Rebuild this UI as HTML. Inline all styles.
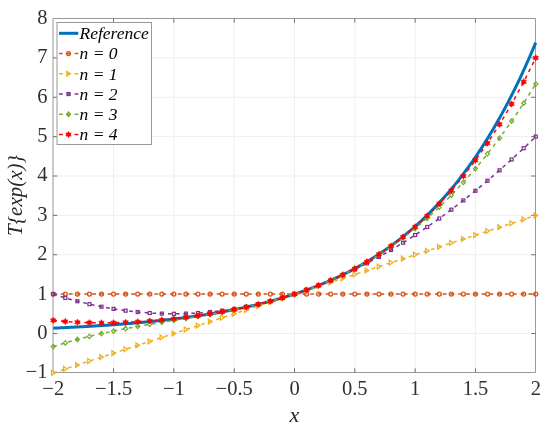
<!DOCTYPE html>
<html><head><meta charset="utf-8"><style>html,body{margin:0;padding:0;background:#fff;width:550px;height:430px;overflow:hidden}svg{display:block}</style></head>
<body><svg width="550" height="430" viewBox="0 0 550 430">
<rect width="550" height="430" fill="#fff"/>
<path d="M113.56,18.5V372.5M173.87,18.5V372.5M234.19,18.5V372.5M294.50,18.5V372.5M354.81,18.5V372.5M415.13,18.5V372.5M475.44,18.5V372.5M53.0,333.50H535.5M53.0,294.12H535.5M53.0,254.75H535.5M53.0,215.38H535.5M53.0,176.00H535.5M53.0,136.62H535.5M53.0,97.25H535.5M53.0,57.88H535.5" stroke="#efefef" stroke-width="1" fill="none"/>
<path d="M53.0,18.5H535.5V372.5H53.0Z" stroke="#999" stroke-width="1" fill="none"/>
<path d="M113.56,372.5v-4.2M113.56,18.5v4.2M173.87,372.5v-4.2M173.87,18.5v4.2M234.19,372.5v-4.2M234.19,18.5v4.2M294.50,372.5v-4.2M294.50,18.5v4.2M354.81,372.5v-4.2M354.81,18.5v4.2M415.13,372.5v-4.2M415.13,18.5v4.2M475.44,372.5v-4.2M475.44,18.5v4.2M53.0,333.50h4.2M535.5,333.50h-4.2M53.0,294.12h4.2M535.5,294.12h-4.2M53.0,254.75h4.2M535.5,254.75h-4.2M53.0,215.38h4.2M535.5,215.38h-4.2M53.0,176.00h4.2M535.5,176.00h-4.2M53.0,136.62h4.2M535.5,136.62h-4.2M53.0,97.25h4.2M535.5,97.25h-4.2M53.0,57.88h4.2M535.5,57.88h-4.2" stroke="#707070" stroke-width="1" fill="none"/>
<path d="M53.24,328.17 L54.45,328.12 L55.65,328.06 L56.86,328.01 L58.07,327.95 L59.27,327.90 L60.48,327.84 L61.68,327.78 L62.89,327.73 L64.10,327.67 L65.30,327.61 L66.51,327.55 L67.72,327.49 L68.92,327.43 L70.13,327.37 L71.33,327.31 L72.54,327.25 L73.75,327.18 L74.95,327.12 L76.16,327.06 L77.37,326.99 L78.57,326.93 L79.78,326.86 L80.98,326.79 L82.19,326.73 L83.40,326.66 L84.60,326.59 L85.81,326.52 L87.02,326.45 L88.22,326.38 L89.43,326.31 L90.64,326.23 L91.84,326.16 L93.05,326.09 L94.25,326.01 L95.46,325.94 L96.67,325.86 L97.87,325.79 L99.08,325.71 L100.29,325.63 L101.49,325.55 L102.70,325.47 L103.90,325.39 L105.11,325.31 L106.32,325.23 L107.52,325.14 L108.73,325.06 L109.94,324.97 L111.14,324.89 L112.35,324.80 L113.56,324.71 L114.76,324.63 L115.97,324.54 L117.17,324.45 L118.38,324.36 L119.59,324.26 L120.79,324.17 L122.00,324.08 L123.21,323.98 L124.41,323.89 L125.62,323.79 L126.82,323.69 L128.03,323.59 L129.24,323.49 L130.44,323.39 L131.65,323.29 L132.86,323.19 L134.06,323.09 L135.27,322.98 L136.47,322.88 L137.68,322.77 L138.89,322.66 L140.09,322.55 L141.30,322.44 L142.51,322.33 L143.71,322.22 L144.92,322.11 L146.13,321.99 L147.33,321.88 L148.54,321.76 L149.74,321.64 L150.95,321.52 L152.16,321.40 L153.36,321.28 L154.57,321.16 L155.78,321.03 L156.98,320.91 L158.19,320.78 L159.39,320.65 L160.60,320.52 L161.81,320.39 L163.01,320.26 L164.22,320.13 L165.43,319.99 L166.63,319.86 L167.84,319.72 L169.04,319.58 L170.25,319.44 L171.46,319.30 L172.66,319.16 L173.87,319.01 L175.08,318.87 L176.28,318.72 L177.49,318.57 L178.70,318.42 L179.90,318.27 L181.11,318.12 L182.31,317.96 L183.52,317.81 L184.73,317.65 L185.93,317.49 L187.14,317.33 L188.35,317.17 L189.55,317.00 L190.76,316.84 L191.96,316.67 L193.17,316.50 L194.38,316.33 L195.58,316.16 L196.79,315.98 L198.00,315.81 L199.20,315.63 L200.41,315.45 L201.61,315.27 L202.82,315.09 L204.03,314.90 L205.23,314.71 L206.44,314.52 L207.65,314.33 L208.85,314.14 L210.06,313.95 L211.27,313.75 L212.47,313.55 L213.68,313.35 L214.88,313.15 L216.09,312.94 L217.30,312.74 L218.50,312.53 L219.71,312.32 L220.92,312.11 L222.12,311.89 L223.33,311.67 L224.53,311.45 L225.74,311.23 L226.95,311.01 L228.15,310.78 L229.36,310.55 L230.57,310.32 L231.77,310.09 L232.98,309.86 L234.19,309.62 L235.39,309.38 L236.60,309.14 L237.80,308.89 L239.01,308.64 L240.22,308.39 L241.42,308.14 L242.63,307.89 L243.84,307.63 L245.04,307.37 L246.25,307.11 L247.45,306.84 L248.66,306.57 L249.87,306.30 L251.07,306.03 L252.28,305.75 L253.49,305.47 L254.69,305.19 L255.90,304.91 L257.10,304.62 L258.31,304.33 L259.52,304.04 L260.72,303.74 L261.93,303.44 L263.14,303.14 L264.34,302.83 L265.55,302.53 L266.76,302.22 L267.96,301.90 L269.17,301.58 L270.37,301.26 L271.58,300.94 L272.79,300.61 L273.99,300.28 L275.20,299.95 L276.41,299.61 L277.61,299.27 L278.82,298.92 L280.02,298.58 L281.23,298.23 L282.44,297.87 L283.64,297.51 L284.85,297.15 L286.06,296.79 L287.26,296.42 L288.47,296.05 L289.67,295.67 L290.88,295.29 L292.09,294.90 L293.29,294.52 L294.50,294.12 L295.71,293.73 L296.91,293.33 L298.12,292.93 L299.33,292.52 L300.53,292.11 L301.74,291.69 L302.94,291.27 L304.15,290.85 L305.36,290.42 L306.56,289.98 L307.77,289.55 L308.98,289.10 L310.18,288.66 L311.39,288.21 L312.59,287.75 L313.80,287.29 L315.01,286.83 L316.21,286.36 L317.42,285.89 L318.63,285.41 L319.83,284.92 L321.04,284.44 L322.24,283.94 L323.45,283.44 L324.66,282.94 L325.86,282.43 L327.07,281.92 L328.28,281.40 L329.48,280.88 L330.69,280.35 L331.90,279.82 L333.10,279.28 L334.31,278.73 L335.51,278.18 L336.72,277.62 L337.93,277.06 L339.13,276.50 L340.34,275.92 L341.55,275.34 L342.75,274.76 L343.96,274.17 L345.16,273.57 L346.37,272.97 L347.58,272.36 L348.78,271.75 L349.99,271.13 L351.20,270.50 L352.40,269.87 L353.61,269.23 L354.81,268.58 L356.02,267.93 L357.23,267.27 L358.43,266.60 L359.64,265.93 L360.85,265.25 L362.05,264.57 L363.26,263.87 L364.47,263.17 L365.67,262.47 L366.88,261.75 L368.08,261.03 L369.29,260.30 L370.50,259.57 L371.70,258.83 L372.91,258.08 L374.12,257.32 L375.32,256.55 L376.53,255.78 L377.73,255.00 L378.94,254.21 L380.15,253.41 L381.35,252.61 L382.56,251.79 L383.77,250.97 L384.97,250.14 L386.18,249.31 L387.39,248.46 L388.59,247.60 L389.80,246.74 L391.00,245.87 L392.21,244.99 L393.42,244.10 L394.62,243.20 L395.83,242.29 L397.04,241.38 L398.24,240.45 L399.45,239.52 L400.65,238.57 L401.86,237.62 L403.07,236.65 L404.27,235.68 L405.48,234.70 L406.69,233.70 L407.89,232.70 L409.10,231.69 L410.30,230.66 L411.51,229.63 L412.72,228.59 L413.92,227.53 L415.13,226.47 L416.34,225.39 L417.54,224.31 L418.75,223.21 L419.96,222.10 L421.16,220.98 L422.37,219.85 L423.57,218.71 L424.78,217.55 L425.99,216.39 L427.19,215.21 L428.40,214.02 L429.61,212.82 L430.81,211.61 L432.02,210.38 L433.22,209.15 L434.43,207.90 L435.64,206.63 L436.84,205.36 L438.05,204.07 L439.26,202.77 L440.46,201.46 L441.67,200.13 L442.87,198.79 L444.08,197.44 L445.29,196.07 L446.49,194.69 L447.70,193.29 L448.91,191.88 L450.11,190.46 L451.32,189.02 L452.53,187.57 L453.73,186.10 L454.94,184.62 L456.14,183.13 L457.35,181.61 L458.56,180.09 L459.76,178.55 L460.97,176.99 L462.18,175.42 L463.38,173.83 L464.59,172.22 L465.79,170.60 L467.00,168.96 L468.21,167.31 L469.41,165.64 L470.62,163.95 L471.83,162.25 L473.03,160.53 L474.24,158.79 L475.44,157.03 L476.65,155.26 L477.86,153.47 L479.06,151.66 L480.27,149.83 L481.48,147.99 L482.68,146.12 L483.89,144.24 L485.10,142.34 L486.30,140.41 L487.51,138.47 L488.71,136.51 L489.92,134.53 L491.13,132.53 L492.33,130.52 L493.54,128.48 L494.75,126.41 L495.95,124.33 L497.16,122.23 L498.36,120.11 L499.57,117.96 L500.78,115.80 L501.98,113.61 L503.19,111.40 L504.40,109.17 L505.60,106.91 L506.81,104.64 L508.02,102.34 L509.22,100.01 L510.43,97.67 L511.63,95.30 L512.84,92.90 L514.05,90.48 L515.25,88.04 L516.46,85.57 L517.67,83.08 L518.87,80.57 L520.08,78.02 L521.28,75.46 L522.49,72.86 L523.70,70.24 L524.90,67.60 L526.11,64.92 L527.32,62.23 L528.52,59.50 L529.73,56.75 L530.93,53.96 L532.14,51.15 L533.35,48.32 L534.55,45.45 L535.76,42.56" stroke="#0072BD" stroke-width="3" fill="none"/>
<path d="M53.24,294.12 L65.30,294.12 L77.37,294.12 L89.43,294.12 L101.49,294.12 L113.56,294.12 L125.62,294.12 L137.68,294.12 L149.74,294.12 L161.81,294.12 L173.87,294.12 L185.93,294.12 L198.00,294.12 L210.06,294.12 L222.12,294.12 L234.19,294.12 L246.25,294.12 L258.31,294.12 L270.37,294.12 L282.44,294.12 L294.50,294.12 L306.56,294.12 L318.63,294.12 L330.69,294.12 L342.75,294.12 L354.81,294.12 L366.88,294.12 L378.94,294.12 L391.00,294.12 L403.07,294.12 L415.13,294.12 L427.19,294.12 L439.26,294.12 L451.32,294.12 L463.38,294.12 L475.44,294.12 L487.51,294.12 L499.57,294.12 L511.63,294.12 L523.70,294.12 L535.76,294.12" stroke="#D95319" stroke-width="1.5" fill="none" stroke-dasharray="3.75 4.04"/>
<circle cx="53.24" cy="294.12" r="1.95" fill="none" stroke="#D95319" stroke-width="1.35"/>
<circle cx="65.30" cy="294.12" r="1.95" fill="none" stroke="#D95319" stroke-width="1.35"/>
<circle cx="77.37" cy="294.12" r="1.95" fill="none" stroke="#D95319" stroke-width="1.35"/>
<circle cx="89.43" cy="294.12" r="1.95" fill="none" stroke="#D95319" stroke-width="1.35"/>
<circle cx="101.49" cy="294.12" r="1.95" fill="none" stroke="#D95319" stroke-width="1.35"/>
<circle cx="113.56" cy="294.12" r="1.95" fill="none" stroke="#D95319" stroke-width="1.35"/>
<circle cx="125.62" cy="294.12" r="1.95" fill="none" stroke="#D95319" stroke-width="1.35"/>
<circle cx="137.68" cy="294.12" r="1.95" fill="none" stroke="#D95319" stroke-width="1.35"/>
<circle cx="149.74" cy="294.12" r="1.95" fill="none" stroke="#D95319" stroke-width="1.35"/>
<circle cx="161.81" cy="294.12" r="1.95" fill="none" stroke="#D95319" stroke-width="1.35"/>
<circle cx="173.87" cy="294.12" r="1.95" fill="none" stroke="#D95319" stroke-width="1.35"/>
<circle cx="185.93" cy="294.12" r="1.95" fill="none" stroke="#D95319" stroke-width="1.35"/>
<circle cx="198.00" cy="294.12" r="1.95" fill="none" stroke="#D95319" stroke-width="1.35"/>
<circle cx="210.06" cy="294.12" r="1.95" fill="none" stroke="#D95319" stroke-width="1.35"/>
<circle cx="222.12" cy="294.12" r="1.95" fill="none" stroke="#D95319" stroke-width="1.35"/>
<circle cx="234.19" cy="294.12" r="1.95" fill="none" stroke="#D95319" stroke-width="1.35"/>
<circle cx="246.25" cy="294.12" r="1.95" fill="none" stroke="#D95319" stroke-width="1.35"/>
<circle cx="258.31" cy="294.12" r="1.95" fill="none" stroke="#D95319" stroke-width="1.35"/>
<circle cx="270.37" cy="294.12" r="1.95" fill="none" stroke="#D95319" stroke-width="1.35"/>
<circle cx="282.44" cy="294.12" r="1.95" fill="none" stroke="#D95319" stroke-width="1.35"/>
<circle cx="294.50" cy="294.12" r="1.95" fill="none" stroke="#D95319" stroke-width="1.35"/>
<circle cx="306.56" cy="294.12" r="1.95" fill="none" stroke="#D95319" stroke-width="1.35"/>
<circle cx="318.63" cy="294.12" r="1.95" fill="none" stroke="#D95319" stroke-width="1.35"/>
<circle cx="330.69" cy="294.12" r="1.95" fill="none" stroke="#D95319" stroke-width="1.35"/>
<circle cx="342.75" cy="294.12" r="1.95" fill="none" stroke="#D95319" stroke-width="1.35"/>
<circle cx="354.81" cy="294.12" r="1.95" fill="none" stroke="#D95319" stroke-width="1.35"/>
<circle cx="366.88" cy="294.12" r="1.95" fill="none" stroke="#D95319" stroke-width="1.35"/>
<circle cx="378.94" cy="294.12" r="1.95" fill="none" stroke="#D95319" stroke-width="1.35"/>
<circle cx="391.00" cy="294.12" r="1.95" fill="none" stroke="#D95319" stroke-width="1.35"/>
<circle cx="403.07" cy="294.12" r="1.95" fill="none" stroke="#D95319" stroke-width="1.35"/>
<circle cx="415.13" cy="294.12" r="1.95" fill="none" stroke="#D95319" stroke-width="1.35"/>
<circle cx="427.19" cy="294.12" r="1.95" fill="none" stroke="#D95319" stroke-width="1.35"/>
<circle cx="439.26" cy="294.12" r="1.95" fill="none" stroke="#D95319" stroke-width="1.35"/>
<circle cx="451.32" cy="294.12" r="1.95" fill="none" stroke="#D95319" stroke-width="1.35"/>
<circle cx="463.38" cy="294.12" r="1.95" fill="none" stroke="#D95319" stroke-width="1.35"/>
<circle cx="475.44" cy="294.12" r="1.95" fill="none" stroke="#D95319" stroke-width="1.35"/>
<circle cx="487.51" cy="294.12" r="1.95" fill="none" stroke="#D95319" stroke-width="1.35"/>
<circle cx="499.57" cy="294.12" r="1.95" fill="none" stroke="#D95319" stroke-width="1.35"/>
<circle cx="511.63" cy="294.12" r="1.95" fill="none" stroke="#D95319" stroke-width="1.35"/>
<circle cx="523.70" cy="294.12" r="1.95" fill="none" stroke="#D95319" stroke-width="1.35"/>
<circle cx="535.76" cy="294.12" r="1.95" fill="none" stroke="#D95319" stroke-width="1.35"/>
<path d="M53.24,372.88 L65.30,368.94 L77.37,365.00 L89.43,361.06 L101.49,357.12 L113.56,353.19 L125.62,349.25 L137.68,345.31 L149.74,341.38 L161.81,337.44 L173.87,333.50 L185.93,329.56 L198.00,325.62 L210.06,321.69 L222.12,317.75 L234.19,313.81 L246.25,309.88 L258.31,305.94 L270.37,302.00 L282.44,298.06 L294.50,294.12 L306.56,290.19 L318.63,286.25 L330.69,282.31 L342.75,278.38 L354.81,274.44 L366.88,270.50 L378.94,266.56 L391.00,262.62 L403.07,258.69 L415.13,254.75 L427.19,250.81 L439.26,246.88 L451.32,242.94 L463.38,239.00 L475.44,235.06 L487.51,231.12 L499.57,227.19 L511.63,223.25 L523.70,219.31 L535.76,215.38" stroke="#EDB120" stroke-width="1.5" fill="none" stroke-dasharray="3.75 4.04"/>
<polygon points="55.24,372.88 51.54,370.43 51.54,375.32" fill="none" stroke="#EDB120" stroke-width="1.2"/>
<polygon points="67.30,368.94 63.60,366.49 63.60,371.39" fill="none" stroke="#EDB120" stroke-width="1.2"/>
<polygon points="79.37,365.00 75.67,362.55 75.67,367.45" fill="none" stroke="#EDB120" stroke-width="1.2"/>
<polygon points="91.43,361.06 87.73,358.61 87.73,363.51" fill="none" stroke="#EDB120" stroke-width="1.2"/>
<polygon points="103.49,357.12 99.79,354.68 99.79,359.57" fill="none" stroke="#EDB120" stroke-width="1.2"/>
<polygon points="115.56,353.19 111.86,350.74 111.86,355.64" fill="none" stroke="#EDB120" stroke-width="1.2"/>
<polygon points="127.62,349.25 123.92,346.80 123.92,351.70" fill="none" stroke="#EDB120" stroke-width="1.2"/>
<polygon points="139.68,345.31 135.98,342.86 135.98,347.76" fill="none" stroke="#EDB120" stroke-width="1.2"/>
<polygon points="151.74,341.38 148.04,338.93 148.04,343.82" fill="none" stroke="#EDB120" stroke-width="1.2"/>
<polygon points="163.81,337.44 160.11,334.99 160.11,339.89" fill="none" stroke="#EDB120" stroke-width="1.2"/>
<polygon points="175.87,333.50 172.17,331.05 172.17,335.95" fill="none" stroke="#EDB120" stroke-width="1.2"/>
<polygon points="187.93,329.56 184.23,327.11 184.23,332.01" fill="none" stroke="#EDB120" stroke-width="1.2"/>
<polygon points="200.00,325.62 196.30,323.18 196.30,328.07" fill="none" stroke="#EDB120" stroke-width="1.2"/>
<polygon points="212.06,321.69 208.36,319.24 208.36,324.14" fill="none" stroke="#EDB120" stroke-width="1.2"/>
<polygon points="224.12,317.75 220.42,315.30 220.42,320.20" fill="none" stroke="#EDB120" stroke-width="1.2"/>
<polygon points="236.19,313.81 232.49,311.36 232.49,316.26" fill="none" stroke="#EDB120" stroke-width="1.2"/>
<polygon points="248.25,309.88 244.55,307.43 244.55,312.32" fill="none" stroke="#EDB120" stroke-width="1.2"/>
<polygon points="260.31,305.94 256.61,303.49 256.61,308.39" fill="none" stroke="#EDB120" stroke-width="1.2"/>
<polygon points="272.37,302.00 268.67,299.55 268.67,304.45" fill="none" stroke="#EDB120" stroke-width="1.2"/>
<polygon points="284.44,298.06 280.74,295.61 280.74,300.51" fill="none" stroke="#EDB120" stroke-width="1.2"/>
<polygon points="296.50,294.12 292.80,291.68 292.80,296.57" fill="none" stroke="#EDB120" stroke-width="1.2"/>
<polygon points="308.56,290.19 304.86,287.74 304.86,292.64" fill="none" stroke="#EDB120" stroke-width="1.2"/>
<polygon points="320.63,286.25 316.93,283.80 316.93,288.70" fill="none" stroke="#EDB120" stroke-width="1.2"/>
<polygon points="332.69,282.31 328.99,279.86 328.99,284.76" fill="none" stroke="#EDB120" stroke-width="1.2"/>
<polygon points="344.75,278.38 341.05,275.93 341.05,280.82" fill="none" stroke="#EDB120" stroke-width="1.2"/>
<polygon points="356.81,274.44 353.12,271.99 353.12,276.89" fill="none" stroke="#EDB120" stroke-width="1.2"/>
<polygon points="368.88,270.50 365.18,268.05 365.18,272.95" fill="none" stroke="#EDB120" stroke-width="1.2"/>
<polygon points="380.94,266.56 377.24,264.11 377.24,269.01" fill="none" stroke="#EDB120" stroke-width="1.2"/>
<polygon points="393.00,262.62 389.30,260.18 389.30,265.07" fill="none" stroke="#EDB120" stroke-width="1.2"/>
<polygon points="405.07,258.69 401.37,256.24 401.37,261.14" fill="none" stroke="#EDB120" stroke-width="1.2"/>
<polygon points="417.13,254.75 413.43,252.30 413.43,257.20" fill="none" stroke="#EDB120" stroke-width="1.2"/>
<polygon points="429.19,250.81 425.49,248.36 425.49,253.26" fill="none" stroke="#EDB120" stroke-width="1.2"/>
<polygon points="441.26,246.88 437.56,244.43 437.56,249.32" fill="none" stroke="#EDB120" stroke-width="1.2"/>
<polygon points="453.32,242.94 449.62,240.49 449.62,245.39" fill="none" stroke="#EDB120" stroke-width="1.2"/>
<polygon points="465.38,239.00 461.68,236.55 461.68,241.45" fill="none" stroke="#EDB120" stroke-width="1.2"/>
<polygon points="477.44,235.06 473.75,232.61 473.75,237.51" fill="none" stroke="#EDB120" stroke-width="1.2"/>
<polygon points="489.51,231.12 485.81,228.68 485.81,233.57" fill="none" stroke="#EDB120" stroke-width="1.2"/>
<polygon points="501.57,227.19 497.87,224.74 497.87,229.64" fill="none" stroke="#EDB120" stroke-width="1.2"/>
<polygon points="513.63,223.25 509.93,220.80 509.93,225.70" fill="none" stroke="#EDB120" stroke-width="1.2"/>
<polygon points="525.70,219.31 522.00,216.86 522.00,221.76" fill="none" stroke="#EDB120" stroke-width="1.2"/>
<polygon points="537.76,215.38 534.06,212.93 534.06,217.82" fill="none" stroke="#EDB120" stroke-width="1.2"/>
<path d="M53.24,294.12 L65.30,297.87 L77.37,301.21 L89.43,304.17 L101.49,306.73 L113.56,308.89 L125.62,310.66 L137.68,312.04 L149.74,313.02 L161.81,313.62 L173.87,313.81 L185.93,313.62 L198.00,313.02 L210.06,312.04 L222.12,310.66 L234.19,308.89 L246.25,306.73 L258.31,304.17 L270.37,301.21 L282.44,297.87 L294.50,294.12 L306.56,289.99 L318.63,285.46 L330.69,280.54 L342.75,275.23 L354.81,269.52 L366.88,263.41 L378.94,256.92 L391.00,250.02 L403.07,242.74 L415.13,235.06 L427.19,226.99 L439.26,218.53 L451.32,209.67 L463.38,200.41 L475.44,190.77 L487.51,180.72 L499.57,170.29 L511.63,159.46 L523.70,148.24 L535.76,136.62" stroke="#7E2F8E" stroke-width="1.5" fill="none" stroke-dasharray="3.75 4.04"/>
<rect x="51.74" y="292.62" width="3.00" height="3.00" fill="none" stroke="#7E2F8E" stroke-width="1.2"/>
<rect x="63.80" y="296.37" width="3.00" height="3.00" fill="none" stroke="#7E2F8E" stroke-width="1.2"/>
<rect x="75.87" y="299.71" width="3.00" height="3.00" fill="none" stroke="#7E2F8E" stroke-width="1.2"/>
<rect x="87.93" y="302.67" width="3.00" height="3.00" fill="none" stroke="#7E2F8E" stroke-width="1.2"/>
<rect x="99.99" y="305.23" width="3.00" height="3.00" fill="none" stroke="#7E2F8E" stroke-width="1.2"/>
<rect x="112.06" y="307.39" width="3.00" height="3.00" fill="none" stroke="#7E2F8E" stroke-width="1.2"/>
<rect x="124.12" y="309.16" width="3.00" height="3.00" fill="none" stroke="#7E2F8E" stroke-width="1.2"/>
<rect x="136.18" y="310.54" width="3.00" height="3.00" fill="none" stroke="#7E2F8E" stroke-width="1.2"/>
<rect x="148.24" y="311.52" width="3.00" height="3.00" fill="none" stroke="#7E2F8E" stroke-width="1.2"/>
<rect x="160.31" y="312.12" width="3.00" height="3.00" fill="none" stroke="#7E2F8E" stroke-width="1.2"/>
<rect x="172.37" y="312.31" width="3.00" height="3.00" fill="none" stroke="#7E2F8E" stroke-width="1.2"/>
<rect x="184.43" y="312.12" width="3.00" height="3.00" fill="none" stroke="#7E2F8E" stroke-width="1.2"/>
<rect x="196.50" y="311.52" width="3.00" height="3.00" fill="none" stroke="#7E2F8E" stroke-width="1.2"/>
<rect x="208.56" y="310.54" width="3.00" height="3.00" fill="none" stroke="#7E2F8E" stroke-width="1.2"/>
<rect x="220.62" y="309.16" width="3.00" height="3.00" fill="none" stroke="#7E2F8E" stroke-width="1.2"/>
<rect x="232.69" y="307.39" width="3.00" height="3.00" fill="none" stroke="#7E2F8E" stroke-width="1.2"/>
<rect x="244.75" y="305.23" width="3.00" height="3.00" fill="none" stroke="#7E2F8E" stroke-width="1.2"/>
<rect x="256.81" y="302.67" width="3.00" height="3.00" fill="none" stroke="#7E2F8E" stroke-width="1.2"/>
<rect x="268.87" y="299.71" width="3.00" height="3.00" fill="none" stroke="#7E2F8E" stroke-width="1.2"/>
<rect x="280.94" y="296.37" width="3.00" height="3.00" fill="none" stroke="#7E2F8E" stroke-width="1.2"/>
<rect x="293.00" y="292.62" width="3.00" height="3.00" fill="none" stroke="#7E2F8E" stroke-width="1.2"/>
<rect x="305.06" y="288.49" width="3.00" height="3.00" fill="none" stroke="#7E2F8E" stroke-width="1.2"/>
<rect x="317.13" y="283.96" width="3.00" height="3.00" fill="none" stroke="#7E2F8E" stroke-width="1.2"/>
<rect x="329.19" y="279.04" width="3.00" height="3.00" fill="none" stroke="#7E2F8E" stroke-width="1.2"/>
<rect x="341.25" y="273.73" width="3.00" height="3.00" fill="none" stroke="#7E2F8E" stroke-width="1.2"/>
<rect x="353.31" y="268.02" width="3.00" height="3.00" fill="none" stroke="#7E2F8E" stroke-width="1.2"/>
<rect x="365.38" y="261.91" width="3.00" height="3.00" fill="none" stroke="#7E2F8E" stroke-width="1.2"/>
<rect x="377.44" y="255.42" width="3.00" height="3.00" fill="none" stroke="#7E2F8E" stroke-width="1.2"/>
<rect x="389.50" y="248.52" width="3.00" height="3.00" fill="none" stroke="#7E2F8E" stroke-width="1.2"/>
<rect x="401.57" y="241.24" width="3.00" height="3.00" fill="none" stroke="#7E2F8E" stroke-width="1.2"/>
<rect x="413.63" y="233.56" width="3.00" height="3.00" fill="none" stroke="#7E2F8E" stroke-width="1.2"/>
<rect x="425.69" y="225.49" width="3.00" height="3.00" fill="none" stroke="#7E2F8E" stroke-width="1.2"/>
<rect x="437.76" y="217.03" width="3.00" height="3.00" fill="none" stroke="#7E2F8E" stroke-width="1.2"/>
<rect x="449.82" y="208.17" width="3.00" height="3.00" fill="none" stroke="#7E2F8E" stroke-width="1.2"/>
<rect x="461.88" y="198.91" width="3.00" height="3.00" fill="none" stroke="#7E2F8E" stroke-width="1.2"/>
<rect x="473.94" y="189.27" width="3.00" height="3.00" fill="none" stroke="#7E2F8E" stroke-width="1.2"/>
<rect x="486.01" y="179.22" width="3.00" height="3.00" fill="none" stroke="#7E2F8E" stroke-width="1.2"/>
<rect x="498.07" y="168.79" width="3.00" height="3.00" fill="none" stroke="#7E2F8E" stroke-width="1.2"/>
<rect x="510.13" y="157.96" width="3.00" height="3.00" fill="none" stroke="#7E2F8E" stroke-width="1.2"/>
<rect x="522.20" y="146.74" width="3.00" height="3.00" fill="none" stroke="#7E2F8E" stroke-width="1.2"/>
<rect x="534.26" y="135.12" width="3.00" height="3.00" fill="none" stroke="#7E2F8E" stroke-width="1.2"/>
<path d="M53.24,346.62 L65.30,342.88 L77.37,339.49 L89.43,336.41 L101.49,333.61 L113.56,331.04 L125.62,328.67 L137.68,326.46 L149.74,324.37 L161.81,322.35 L173.87,320.38 L185.93,318.40 L198.00,316.38 L210.06,314.29 L222.12,312.08 L234.19,309.71 L246.25,307.14 L258.31,304.34 L270.37,301.26 L282.44,297.87 L294.50,294.12 L306.56,289.98 L318.63,285.41 L330.69,280.36 L342.75,274.81 L354.81,268.70 L366.88,262.00 L378.94,254.66 L391.00,246.66 L403.07,237.96 L415.13,228.50 L427.19,218.26 L439.26,207.19 L451.32,195.25 L463.38,182.41 L475.44,168.62 L487.51,153.84 L499.57,138.05 L511.63,121.19 L523.70,103.23 L535.76,84.12" stroke="#77AC30" stroke-width="1.5" fill="none" stroke-dasharray="3.75 4.04"/>
<polygon points="53.24,344.38 55.29,346.62 53.24,348.88 51.19,346.62" fill="none" stroke="#77AC30" stroke-width="1.2"/>
<polygon points="65.30,340.63 67.35,342.88 65.30,345.13 63.25,342.88" fill="none" stroke="#77AC30" stroke-width="1.2"/>
<polygon points="77.37,337.24 79.42,339.49 77.37,341.74 75.32,339.49" fill="none" stroke="#77AC30" stroke-width="1.2"/>
<polygon points="89.43,334.16 91.48,336.41 89.43,338.66 87.38,336.41" fill="none" stroke="#77AC30" stroke-width="1.2"/>
<polygon points="101.49,331.36 103.54,333.61 101.49,335.86 99.44,333.61" fill="none" stroke="#77AC30" stroke-width="1.2"/>
<polygon points="113.56,328.79 115.61,331.04 113.56,333.29 111.51,331.04" fill="none" stroke="#77AC30" stroke-width="1.2"/>
<polygon points="125.62,326.42 127.67,328.67 125.62,330.92 123.57,328.67" fill="none" stroke="#77AC30" stroke-width="1.2"/>
<polygon points="137.68,324.21 139.73,326.46 137.68,328.71 135.63,326.46" fill="none" stroke="#77AC30" stroke-width="1.2"/>
<polygon points="149.74,322.12 151.79,324.37 149.74,326.62 147.69,324.37" fill="none" stroke="#77AC30" stroke-width="1.2"/>
<polygon points="161.81,320.10 163.86,322.35 161.81,324.60 159.76,322.35" fill="none" stroke="#77AC30" stroke-width="1.2"/>
<polygon points="173.87,318.12 175.92,320.38 173.87,322.62 171.82,320.38" fill="none" stroke="#77AC30" stroke-width="1.2"/>
<polygon points="185.93,316.15 187.98,318.40 185.93,320.65 183.88,318.40" fill="none" stroke="#77AC30" stroke-width="1.2"/>
<polygon points="198.00,314.13 200.05,316.38 198.00,318.63 195.95,316.38" fill="none" stroke="#77AC30" stroke-width="1.2"/>
<polygon points="210.06,312.04 212.11,314.29 210.06,316.54 208.01,314.29" fill="none" stroke="#77AC30" stroke-width="1.2"/>
<polygon points="222.12,309.83 224.17,312.08 222.12,314.33 220.07,312.08" fill="none" stroke="#77AC30" stroke-width="1.2"/>
<polygon points="234.19,307.46 236.24,309.71 234.19,311.96 232.13,309.71" fill="none" stroke="#77AC30" stroke-width="1.2"/>
<polygon points="246.25,304.89 248.30,307.14 246.25,309.39 244.20,307.14" fill="none" stroke="#77AC30" stroke-width="1.2"/>
<polygon points="258.31,302.09 260.36,304.34 258.31,306.59 256.26,304.34" fill="none" stroke="#77AC30" stroke-width="1.2"/>
<polygon points="270.37,299.01 272.42,301.26 270.37,303.51 268.32,301.26" fill="none" stroke="#77AC30" stroke-width="1.2"/>
<polygon points="282.44,295.62 284.49,297.87 282.44,300.12 280.39,297.87" fill="none" stroke="#77AC30" stroke-width="1.2"/>
<polygon points="294.50,291.88 296.55,294.12 294.50,296.38 292.45,294.12" fill="none" stroke="#77AC30" stroke-width="1.2"/>
<polygon points="306.56,287.73 308.61,289.98 306.56,292.23 304.51,289.98" fill="none" stroke="#77AC30" stroke-width="1.2"/>
<polygon points="318.63,283.16 320.68,285.41 318.63,287.66 316.58,285.41" fill="none" stroke="#77AC30" stroke-width="1.2"/>
<polygon points="330.69,278.11 332.74,280.36 330.69,282.61 328.64,280.36" fill="none" stroke="#77AC30" stroke-width="1.2"/>
<polygon points="342.75,272.56 344.80,274.81 342.75,277.06 340.70,274.81" fill="none" stroke="#77AC30" stroke-width="1.2"/>
<polygon points="354.81,266.45 356.87,268.70 354.81,270.95 352.76,268.70" fill="none" stroke="#77AC30" stroke-width="1.2"/>
<polygon points="366.88,259.75 368.93,262.00 366.88,264.25 364.83,262.00" fill="none" stroke="#77AC30" stroke-width="1.2"/>
<polygon points="378.94,252.41 380.99,254.66 378.94,256.91 376.89,254.66" fill="none" stroke="#77AC30" stroke-width="1.2"/>
<polygon points="391.00,244.41 393.05,246.66 391.00,248.91 388.95,246.66" fill="none" stroke="#77AC30" stroke-width="1.2"/>
<polygon points="403.07,235.71 405.12,237.96 403.07,240.21 401.02,237.96" fill="none" stroke="#77AC30" stroke-width="1.2"/>
<polygon points="415.13,226.25 417.18,228.50 415.13,230.75 413.08,228.50" fill="none" stroke="#77AC30" stroke-width="1.2"/>
<polygon points="427.19,216.01 429.24,218.26 427.19,220.51 425.14,218.26" fill="none" stroke="#77AC30" stroke-width="1.2"/>
<polygon points="439.26,204.94 441.31,207.19 439.26,209.44 437.21,207.19" fill="none" stroke="#77AC30" stroke-width="1.2"/>
<polygon points="451.32,193.00 453.37,195.25 451.32,197.50 449.27,195.25" fill="none" stroke="#77AC30" stroke-width="1.2"/>
<polygon points="463.38,180.16 465.43,182.41 463.38,184.66 461.33,182.41" fill="none" stroke="#77AC30" stroke-width="1.2"/>
<polygon points="475.44,166.37 477.50,168.62 475.44,170.87 473.39,168.62" fill="none" stroke="#77AC30" stroke-width="1.2"/>
<polygon points="487.51,151.59 489.56,153.84 487.51,156.09 485.46,153.84" fill="none" stroke="#77AC30" stroke-width="1.2"/>
<polygon points="499.57,135.80 501.62,138.05 499.57,140.30 497.52,138.05" fill="none" stroke="#77AC30" stroke-width="1.2"/>
<polygon points="511.63,118.94 513.68,121.19 511.63,123.44 509.58,121.19" fill="none" stroke="#77AC30" stroke-width="1.2"/>
<polygon points="523.70,100.98 525.75,103.23 523.70,105.48 521.65,103.23" fill="none" stroke="#77AC30" stroke-width="1.2"/>
<polygon points="535.76,81.88 537.81,84.12 535.76,86.38 533.71,84.12" fill="none" stroke="#77AC30" stroke-width="1.2"/>
<path d="M53.24,320.38 L65.30,321.50 L77.37,322.26 L89.43,322.70 L101.49,322.85 L113.56,322.73 L125.62,322.37 L137.68,321.77 L149.74,320.96 L161.81,319.95 L173.87,318.73 L185.93,317.32 L198.00,315.71 L210.06,313.90 L222.12,311.87 L234.19,309.61 L246.25,307.10 L258.31,304.33 L270.37,301.26 L282.44,297.87 L294.50,294.12 L306.56,289.98 L318.63,285.41 L330.69,280.35 L342.75,274.76 L354.81,268.59 L366.88,261.78 L378.94,254.27 L391.00,245.99 L403.07,236.88 L415.13,226.86 L427.19,215.85 L439.26,203.78 L451.32,190.56 L463.38,176.10 L475.44,160.31 L487.51,143.09 L499.57,124.35 L511.63,103.97 L523.70,81.85 L535.76,57.88" stroke="#FF0000" stroke-width="1.5" fill="none" stroke-dasharray="3.75 4.04"/>
<polygon points="53.24,317.18 54.17,318.77 56.01,318.77 55.09,320.38 56.01,321.98 54.17,321.98 53.24,323.57 52.32,321.98 50.47,321.98 51.39,320.38 50.47,318.77 52.32,318.77" fill="#FF0000" stroke="#FF0000" stroke-width="0.5"/>
<polygon points="65.30,318.30 66.23,319.89 68.07,319.90 67.15,321.50 68.07,323.10 66.23,323.10 65.30,324.70 64.38,323.10 62.53,323.10 63.45,321.50 62.53,319.90 64.38,319.89" fill="#FF0000" stroke="#FF0000" stroke-width="0.5"/>
<polygon points="77.37,319.06 78.29,320.66 80.14,320.66 79.22,322.26 80.14,323.86 78.29,323.86 77.37,325.46 76.44,323.86 74.59,323.86 75.52,322.26 74.59,320.66 76.44,320.66" fill="#FF0000" stroke="#FF0000" stroke-width="0.5"/>
<polygon points="89.43,319.50 90.35,321.10 92.20,321.10 91.28,322.70 92.20,324.30 90.35,324.31 89.43,325.90 88.50,324.31 86.66,324.30 87.58,322.70 86.66,321.10 88.50,321.10" fill="#FF0000" stroke="#FF0000" stroke-width="0.5"/>
<polygon points="101.49,319.65 102.42,321.25 104.26,321.25 103.34,322.85 104.26,324.45 102.42,324.46 101.49,326.05 100.57,324.46 98.72,324.45 99.64,322.85 98.72,321.25 100.57,321.25" fill="#FF0000" stroke="#FF0000" stroke-width="0.5"/>
<polygon points="113.56,319.53 114.48,321.13 116.33,321.13 115.41,322.73 116.33,324.33 114.48,324.34 113.56,325.93 112.63,324.34 110.78,324.33 111.71,322.73 110.78,321.13 112.63,321.13" fill="#FF0000" stroke="#FF0000" stroke-width="0.5"/>
<polygon points="125.62,319.17 126.54,320.77 128.39,320.77 127.47,322.37 128.39,323.97 126.54,323.97 125.62,325.57 124.69,323.97 122.85,323.97 123.77,322.37 122.85,320.77 124.69,320.77" fill="#FF0000" stroke="#FF0000" stroke-width="0.5"/>
<polygon points="137.68,318.57 138.61,320.17 140.45,320.17 139.53,321.77 140.45,323.37 138.61,323.37 137.68,324.97 136.76,323.37 134.91,323.37 135.83,321.77 134.91,320.17 136.76,320.17" fill="#FF0000" stroke="#FF0000" stroke-width="0.5"/>
<polygon points="149.74,317.76 150.67,319.36 152.52,319.36 151.59,320.96 152.52,322.56 150.67,322.57 149.74,324.16 148.82,322.57 146.97,322.56 147.89,320.96 146.97,319.36 148.82,319.36" fill="#FF0000" stroke="#FF0000" stroke-width="0.5"/>
<polygon points="161.81,316.75 162.73,318.35 164.58,318.35 163.66,319.95 164.58,321.55 162.73,321.55 161.81,323.15 160.88,321.55 159.04,321.55 159.96,319.95 159.04,318.35 160.88,318.35" fill="#FF0000" stroke="#FF0000" stroke-width="0.5"/>
<polygon points="173.87,315.53 174.80,317.13 176.64,317.13 175.72,318.73 176.64,320.33 174.80,320.34 173.87,321.93 172.94,320.34 171.10,320.33 172.02,318.73 171.10,317.13 172.94,317.13" fill="#FF0000" stroke="#FF0000" stroke-width="0.5"/>
<polygon points="185.93,314.12 186.86,315.72 188.70,315.72 187.78,317.32 188.70,318.92 186.86,318.93 185.93,320.52 185.01,318.93 183.16,318.92 184.08,317.32 183.16,315.72 185.01,315.72" fill="#FF0000" stroke="#FF0000" stroke-width="0.5"/>
<polygon points="198.00,312.51 198.92,314.11 200.77,314.11 199.85,315.71 200.77,317.31 198.92,317.32 198.00,318.91 197.07,317.32 195.22,317.31 196.15,315.71 195.22,314.11 197.07,314.11" fill="#FF0000" stroke="#FF0000" stroke-width="0.5"/>
<polygon points="210.06,310.70 210.98,312.30 212.83,312.30 211.91,313.90 212.83,315.50 210.98,315.50 210.06,317.10 209.13,315.50 207.29,315.50 208.21,313.90 207.29,312.30 209.13,312.30" fill="#FF0000" stroke="#FF0000" stroke-width="0.5"/>
<polygon points="222.12,308.67 223.05,310.27 224.89,310.27 223.97,311.87 224.89,313.47 223.05,313.47 222.12,315.07 221.20,313.47 219.35,313.47 220.27,311.87 219.35,310.27 221.20,310.27" fill="#FF0000" stroke="#FF0000" stroke-width="0.5"/>
<polygon points="234.19,306.41 235.11,308.01 236.96,308.01 236.03,309.61 236.96,311.21 235.11,311.21 234.19,312.81 233.26,311.21 231.41,311.21 232.34,309.61 231.41,308.01 233.26,308.01" fill="#FF0000" stroke="#FF0000" stroke-width="0.5"/>
<polygon points="246.25,303.90 247.17,305.50 249.02,305.50 248.10,307.10 249.02,308.70 247.17,308.71 246.25,310.30 245.32,308.71 243.48,308.70 244.40,307.10 243.48,305.50 245.32,305.50" fill="#FF0000" stroke="#FF0000" stroke-width="0.5"/>
<polygon points="258.31,301.13 259.24,302.73 261.08,302.73 260.16,304.33 261.08,305.93 259.24,305.93 258.31,307.53 257.39,305.93 255.54,305.93 256.46,304.33 255.54,302.73 257.39,302.73" fill="#FF0000" stroke="#FF0000" stroke-width="0.5"/>
<polygon points="270.37,298.06 271.30,299.66 273.15,299.66 272.22,301.26 273.15,302.86 271.30,302.86 270.37,304.46 269.45,302.86 267.60,302.86 268.52,301.26 267.60,299.66 269.45,299.66" fill="#FF0000" stroke="#FF0000" stroke-width="0.5"/>
<polygon points="282.44,294.67 283.36,296.27 285.21,296.27 284.29,297.87 285.21,299.47 283.36,299.47 282.44,301.07 281.51,299.47 279.67,299.47 280.59,297.87 279.67,296.27 281.51,296.27" fill="#FF0000" stroke="#FF0000" stroke-width="0.5"/>
<polygon points="294.50,290.93 295.43,292.52 297.27,292.52 296.35,294.12 297.27,295.73 295.43,295.73 294.50,297.32 293.57,295.73 291.73,295.73 292.65,294.12 291.73,292.52 293.57,292.52" fill="#FF0000" stroke="#FF0000" stroke-width="0.5"/>
<polygon points="306.56,286.78 307.49,288.38 309.33,288.38 308.41,289.98 309.33,291.58 307.49,291.59 306.56,293.18 305.64,291.59 303.79,291.58 304.71,289.98 303.79,288.38 305.64,288.38" fill="#FF0000" stroke="#FF0000" stroke-width="0.5"/>
<polygon points="318.63,282.21 319.55,283.81 321.40,283.81 320.48,285.41 321.40,287.01 319.55,287.01 318.63,288.61 317.70,287.01 315.85,287.01 316.78,285.41 315.85,283.81 317.70,283.81" fill="#FF0000" stroke="#FF0000" stroke-width="0.5"/>
<polygon points="330.69,277.15 331.61,278.75 333.46,278.75 332.54,280.35 333.46,281.95 331.61,281.95 330.69,283.55 329.76,281.95 327.92,281.95 328.84,280.35 327.92,278.75 329.76,278.75" fill="#FF0000" stroke="#FF0000" stroke-width="0.5"/>
<polygon points="342.75,271.56 343.68,273.16 345.52,273.16 344.60,274.76 345.52,276.36 343.68,276.37 342.75,277.96 341.83,276.37 339.98,276.36 340.90,274.76 339.98,273.16 341.83,273.16" fill="#FF0000" stroke="#FF0000" stroke-width="0.5"/>
<polygon points="354.81,265.39 355.74,266.99 357.59,266.99 356.67,268.59 357.59,270.19 355.74,270.19 354.81,271.79 353.89,270.19 352.04,270.19 352.96,268.59 352.04,266.99 353.89,266.99" fill="#FF0000" stroke="#FF0000" stroke-width="0.5"/>
<polygon points="366.88,258.58 367.80,260.18 369.65,260.18 368.73,261.78 369.65,263.38 367.80,263.38 366.88,264.98 365.95,263.38 364.11,263.38 365.03,261.78 364.11,260.18 365.95,260.18" fill="#FF0000" stroke="#FF0000" stroke-width="0.5"/>
<polygon points="378.94,251.07 379.87,252.67 381.71,252.67 380.79,254.27 381.71,255.87 379.87,255.87 378.94,257.47 378.02,255.87 376.17,255.87 377.09,254.27 376.17,252.67 378.02,252.67" fill="#FF0000" stroke="#FF0000" stroke-width="0.5"/>
<polygon points="391.00,242.79 391.93,244.39 393.78,244.39 392.85,245.99 393.78,247.59 391.93,247.60 391.00,249.19 390.08,247.60 388.23,247.59 389.15,245.99 388.23,244.39 390.08,244.39" fill="#FF0000" stroke="#FF0000" stroke-width="0.5"/>
<polygon points="403.07,233.68 403.99,235.28 405.84,235.28 404.92,236.88 405.84,238.48 403.99,238.48 403.07,240.08 402.14,238.48 400.30,238.48 401.22,236.88 400.30,235.28 402.14,235.28" fill="#FF0000" stroke="#FF0000" stroke-width="0.5"/>
<polygon points="415.13,223.66 416.06,225.26 417.90,225.26 416.98,226.86 417.90,228.46 416.06,228.46 415.13,230.06 414.20,228.46 412.36,228.46 413.28,226.86 412.36,225.26 414.20,225.26" fill="#FF0000" stroke="#FF0000" stroke-width="0.5"/>
<polygon points="427.19,212.65 428.12,214.25 429.96,214.25 429.04,215.85 429.96,217.45 428.12,217.46 427.19,219.05 426.27,217.46 424.42,217.45 425.34,215.85 424.42,214.25 426.27,214.25" fill="#FF0000" stroke="#FF0000" stroke-width="0.5"/>
<polygon points="439.26,200.58 440.18,202.18 442.03,202.18 441.11,203.78 442.03,205.38 440.18,205.39 439.26,206.98 438.33,205.39 436.48,205.38 437.41,203.78 436.48,202.18 438.33,202.18" fill="#FF0000" stroke="#FF0000" stroke-width="0.5"/>
<polygon points="451.32,187.36 452.24,188.96 454.09,188.96 453.17,190.56 454.09,192.16 452.24,192.16 451.32,193.76 450.39,192.16 448.55,192.16 449.47,190.56 448.55,188.96 450.39,188.96" fill="#FF0000" stroke="#FF0000" stroke-width="0.5"/>
<polygon points="463.38,172.90 464.31,174.50 466.15,174.50 465.23,176.10 466.15,177.70 464.31,177.70 463.38,179.30 462.46,177.70 460.61,177.70 461.53,176.10 460.61,174.50 462.46,174.50" fill="#FF0000" stroke="#FF0000" stroke-width="0.5"/>
<polygon points="475.44,157.11 476.37,158.71 478.22,158.71 477.30,160.31 478.22,161.91 476.37,161.91 475.44,163.51 474.52,161.91 472.67,161.91 473.59,160.31 472.67,158.71 474.52,158.71" fill="#FF0000" stroke="#FF0000" stroke-width="0.5"/>
<polygon points="487.51,139.89 488.43,141.49 490.28,141.49 489.36,143.09 490.28,144.69 488.43,144.70 487.51,146.29 486.58,144.70 484.74,144.69 485.66,143.09 484.74,141.49 486.58,141.49" fill="#FF0000" stroke="#FF0000" stroke-width="0.5"/>
<polygon points="499.57,121.15 500.50,122.74 502.34,122.75 501.42,124.35 502.34,125.95 500.50,125.95 499.57,127.55 498.65,125.95 496.80,125.95 497.72,124.35 496.80,122.75 498.65,122.74" fill="#FF0000" stroke="#FF0000" stroke-width="0.5"/>
<polygon points="511.63,100.77 512.56,102.37 514.41,102.37 513.48,103.97 514.41,105.57 512.56,105.57 511.63,107.17 510.71,105.57 508.86,105.57 509.78,103.97 508.86,102.37 510.71,102.37" fill="#FF0000" stroke="#FF0000" stroke-width="0.5"/>
<polygon points="523.70,78.65 524.62,80.25 526.47,80.25 525.55,81.85 526.47,83.45 524.62,83.45 523.70,85.05 522.77,83.45 520.93,83.45 521.85,81.85 520.93,80.25 522.77,80.25" fill="#FF0000" stroke="#FF0000" stroke-width="0.5"/>
<polygon points="535.76,54.67 536.68,56.27 538.53,56.27 537.61,57.88 538.53,59.48 536.68,59.48 535.76,61.08 534.84,59.48 532.99,59.48 533.91,57.88 532.99,56.27 534.84,56.27" fill="#FF0000" stroke="#FF0000" stroke-width="0.5"/>
<text x="47.5" y="378.27" text-anchor="end" font-family="Liberation Serif" font-size="20.5" fill="#303030">−1</text>
<text x="47.5" y="338.90" text-anchor="end" font-family="Liberation Serif" font-size="20.5" fill="#303030">0</text>
<text x="47.5" y="299.52" text-anchor="end" font-family="Liberation Serif" font-size="20.5" fill="#303030">1</text>
<text x="47.5" y="260.15" text-anchor="end" font-family="Liberation Serif" font-size="20.5" fill="#303030">2</text>
<text x="47.5" y="220.78" text-anchor="end" font-family="Liberation Serif" font-size="20.5" fill="#303030">3</text>
<text x="47.5" y="181.40" text-anchor="end" font-family="Liberation Serif" font-size="20.5" fill="#303030">4</text>
<text x="47.5" y="142.03" text-anchor="end" font-family="Liberation Serif" font-size="20.5" fill="#303030">5</text>
<text x="47.5" y="102.65" text-anchor="end" font-family="Liberation Serif" font-size="20.5" fill="#303030">6</text>
<text x="47.5" y="63.27" text-anchor="end" font-family="Liberation Serif" font-size="20.5" fill="#303030">7</text>
<text x="47.5" y="23.90" text-anchor="end" font-family="Liberation Serif" font-size="20.5" fill="#303030">8</text>
<text x="53.24" y="395" text-anchor="middle" font-family="Liberation Serif" font-size="20.5" fill="#303030">−2</text>
<text x="113.56" y="395" text-anchor="middle" font-family="Liberation Serif" font-size="20.5" fill="#303030">−1.5</text>
<text x="173.87" y="395" text-anchor="middle" font-family="Liberation Serif" font-size="20.5" fill="#303030">−1</text>
<text x="234.19" y="395" text-anchor="middle" font-family="Liberation Serif" font-size="20.5" fill="#303030">−0.5</text>
<text x="294.50" y="395" text-anchor="middle" font-family="Liberation Serif" font-size="20.5" fill="#303030">0</text>
<text x="354.81" y="395" text-anchor="middle" font-family="Liberation Serif" font-size="20.5" fill="#303030">0.5</text>
<text x="415.13" y="395" text-anchor="middle" font-family="Liberation Serif" font-size="20.5" fill="#303030">1</text>
<text x="475.44" y="395" text-anchor="middle" font-family="Liberation Serif" font-size="20.5" fill="#303030">1.5</text>
<text x="535.76" y="395" text-anchor="middle" font-family="Liberation Serif" font-size="20.5" fill="#303030">2</text>
<text x="294.50" y="422" text-anchor="middle" font-family="Liberation Serif" font-style="italic" font-size="22" fill="#262626">x</text>
<text transform="translate(21.5,195.50) rotate(-90)" text-anchor="middle" font-family="Liberation Serif" font-style="italic" font-size="21" fill="#262626">T{exp(x)}</text>
<rect x="57.0" y="22.5" width="94.5" height="122.0" fill="#fff" stroke="#999" stroke-width="1"/>
<path d="M59,33.30H78.3" stroke="#0072BD" stroke-width="3"/>
<path d="M59,53.54H78.3" stroke="#D95319" stroke-width="1.5" stroke-dasharray="3.75 4.04"/>
<circle cx="68.50" cy="53.54" r="1.95" fill="none" stroke="#D95319" stroke-width="1.35"/>
<path d="M59,73.78H78.3" stroke="#EDB120" stroke-width="1.5" stroke-dasharray="3.75 4.04"/>
<polygon points="70.50,73.78 66.80,71.33 66.80,76.23" fill="none" stroke="#EDB120" stroke-width="1.2"/>
<path d="M59,94.02H78.3" stroke="#7E2F8E" stroke-width="1.5" stroke-dasharray="3.75 4.04"/>
<rect x="67.00" y="92.52" width="3.00" height="3.00" fill="none" stroke="#7E2F8E" stroke-width="1.2"/>
<path d="M59,114.26H78.3" stroke="#77AC30" stroke-width="1.5" stroke-dasharray="3.75 4.04"/>
<polygon points="68.50,112.01 70.55,114.26 68.50,116.51 66.45,114.26" fill="none" stroke="#77AC30" stroke-width="1.2"/>
<path d="M59,134.50H78.3" stroke="#FF0000" stroke-width="1.5" stroke-dasharray="3.75 4.04"/>
<polygon points="68.50,131.30 69.42,132.90 71.27,132.90 70.35,134.50 71.27,136.10 69.42,136.10 68.50,137.70 67.58,136.10 65.73,136.10 66.65,134.50 65.73,132.90 67.58,132.90" fill="#FF0000" stroke="#FF0000" stroke-width="0.5"/>
<text x="79.5" y="39.20" font-family="Liberation Serif" font-style="italic" font-size="17.5" fill="#000">Reference</text>
<text x="79.5" y="59.44" font-family="Liberation Serif" font-style="italic" font-size="17.5" fill="#000">n = 0</text>
<text x="79.5" y="79.68" font-family="Liberation Serif" font-style="italic" font-size="17.5" fill="#000">n = 1</text>
<text x="79.5" y="99.92" font-family="Liberation Serif" font-style="italic" font-size="17.5" fill="#000">n = 2</text>
<text x="79.5" y="120.16" font-family="Liberation Serif" font-style="italic" font-size="17.5" fill="#000">n = 3</text>
<text x="79.5" y="140.40" font-family="Liberation Serif" font-style="italic" font-size="17.5" fill="#000">n = 4</text>
</svg></body></html>
